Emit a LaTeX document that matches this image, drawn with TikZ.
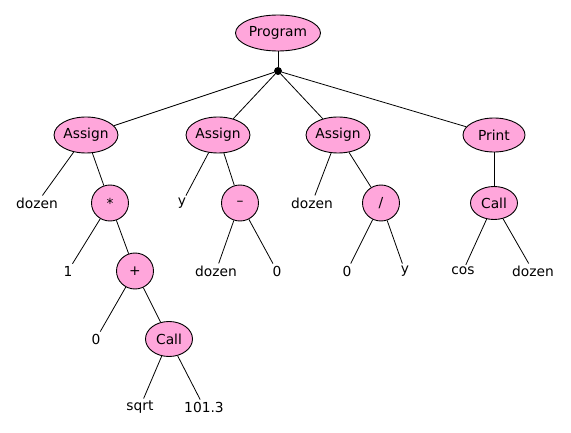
\documentclass[tikz,border=0pt]{standalone}
\usepackage{fontspec}
\setmainfont{DejaVu Sans}
\usetikzlibrary{shapes.geometric}
\definecolor{nodepink}{RGB}{255,166,219}
\begin{document}
\begin{tikzpicture}[x=1pt,y=-1pt,
  op/.style={ellipse,draw=black,line width=0.9pt,fill=nodepink,inner sep=0pt,font=\fontsize{13.8}{16}\selectfont},
  leaf/.style={inner sep=2pt,font=\fontsize{13.8}{16}\selectfont},
  edge/.style={line width=0.8pt}]
\useasboundingbox (0,0) rectangle (571,433);
\node[op,minimum width=85pt,minimum height=36pt] (prog) at (278,33) {Program};
\node[circle,fill=black,inner sep=0pt,minimum size=8pt] (dot) at (278,71) {};
\node[op,minimum width=62pt,minimum height=36pt] (a1) at (86,135) {Assign};
\node[op,minimum width=62pt,minimum height=36pt] (a2) at (218,135) {Assign};
\node[op,minimum width=62pt,minimum height=36pt] (a3) at (338,135) {Assign};
\node[op,minimum width=62pt,minimum height=34pt] (pr) at (494,135) {Print};
\node[leaf] (l1) at (37,203) {dozen};
\node[op,minimum width=37pt,minimum height=36pt] (mul) at (110,203) {*};
\node[leaf] (l2) at (68,271) {1};
\node[op,minimum width=37pt,minimum height=36pt] (plus) at (135,271) {+};
\node[leaf] (l3) at (96,339) {0};
\node[op,minimum width=47pt,minimum height=35pt] (call1) at (169,339) {Call};
\node[leaf] (l4) at (140,407) {sqrt};
\node[leaf] (l5) at (204,407) {101.3};
\node[leaf] (l6) at (182,203) {y};
\node[op,minimum width=37pt,minimum height=36pt] (minus) at (240,203) {–};
\node[leaf] (l7) at (216,271) {dozen};
\node[leaf] (l8) at (277,271) {0};
\node[leaf] (l9) at (312,203) {dozen};
\node[op,minimum width=37pt,minimum height=36pt] (div) at (381,203) {/};
\node[leaf] (l10) at (347,271) {0};
\node[leaf] (l11) at (405,271) {y};
\node[op,minimum width=47pt,minimum height=33pt] (call2) at (494,203) {Call};
\node[leaf] (l12) at (463,271) {cos};
\node[leaf] (l13) at (533,271) {dozen};
\draw[edge] (prog) -- (dot);
\foreach \t in {a1,a2,a3,pr} \draw[edge] (dot) -- (\t);
\draw[edge] (a1) -- (l1);
\draw[edge] (a1) -- (mul);
\draw[edge] (mul) -- (l2);
\draw[edge] (mul) -- (plus);
\draw[edge] (plus) -- (l3);
\draw[edge] (plus) -- (call1);
\draw[edge] (call1) -- (l4);
\draw[edge] (call1) -- (l5);
\draw[edge] (a2) -- (l6);
\draw[edge] (a2) -- (minus);
\draw[edge] (minus) -- (l7);
\draw[edge] (minus) -- (l8);
\draw[edge] (a3) -- (l9);
\draw[edge] (a3) -- (div);
\draw[edge] (div) -- (l10);
\draw[edge] (div) -- (l11);
\draw[edge] (pr) -- (call2);
\draw[edge] (call2) -- (l12);
\draw[edge] (call2) -- (l13);
\end{tikzpicture}
\end{document}
